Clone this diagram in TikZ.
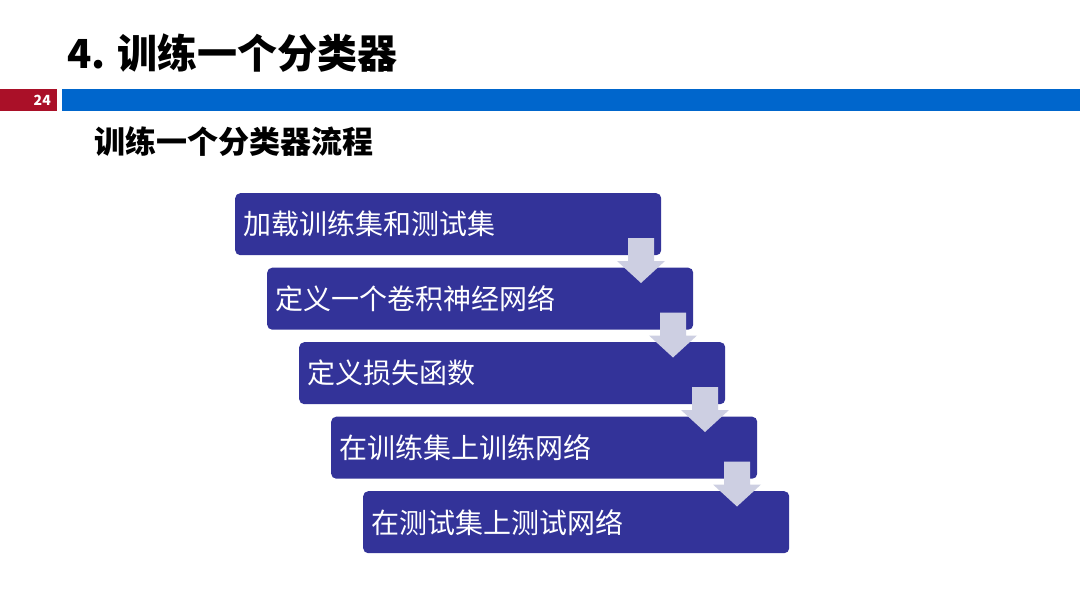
\documentclass[tikz,border=0pt]{standalone}
\usepackage{fontspec}
\setmainfont{Noto Sans CJK SC}
\newfontfamily\cjk{Noto Sans CJK SC}
\usetikzlibrary{positioning}
\definecolor{boxblue}{RGB}{51,51,153}
\definecolor{barblue}{RGB}{0,102,204}
\definecolor{barred}{RGB}{170,16,40}
\definecolor{arrowgray}{RGB}{205,207,226}
\tikzset{
  stepbox/.style={draw=none, fill=boxblue, rounded corners=5pt, minimum width=426pt, minimum height=62pt, anchor=north west, inner sep=0pt},
  steptext/.style={text=white, font=\cjk\fontsize{28}{31}\selectfont, anchor=west, inner sep=0pt},
  flowarrow/.style={fill=arrowgray, draw=none}
}
\newcommand{\flowarr}[2]{% #1 = x centre, #2 = y top
  \fill[arrowgray] (#1-13,#2) -- (#1+13,#2) -- (#1+13,#2+23) -- (#1+24,#2+23) -- (#1,#2+45) -- (#1-24,#2+23) -- (#1-13,#2+23) -- cycle;}
\begin{document}
\begin{tikzpicture}[x=1pt,y=-1pt]
\useasboundingbox (0,0) rectangle (1080,608);
\fill[white] (0,0) rectangle (1080,608);
% title
\node[anchor=west, inner sep=0pt, font=\cjk\bfseries\fontsize{40}{44}\selectfont] (title) at (67,53) {4. 训练一个分类器};
% bars
\fill[barred] (0,89) rectangle (57,111);
\node[anchor=east, inner sep=0pt, text=white, font=\cjk\bfseries\fontsize{14}{16}\selectfont] (num) at (51,100) {24};
\fill[barblue] (62,89) rectangle (1080,111);
% subtitle
\node[anchor=west, inner sep=0pt, font=\cjk\bfseries\fontsize{31}{34}\selectfont] (sub) at (94,142) {训练一个分类器流程};
% boxes
\node[stepbox] (b1) at (235,193) {};
\node[stepbox] (b2) at (267,267.5) {};
\node[stepbox] (b3) at (299,342) {};
\node[stepbox] (b4) at (331,416.5) {};
\node[stepbox] (b5) at (363,491) {};
\node[steptext] (t1) at ([xshift=8pt]b1.west) {加载训练集和测试集};
\node[steptext] (t2) at ([xshift=8pt]b2.west) {定义一个卷积神经网络};
\node[steptext] (t3) at ([xshift=8pt]b3.west) {定义损失函数};
\node[steptext] (t4) at ([xshift=8pt]b4.west) {在训练集上训练网络};
\node[steptext] (t5) at ([xshift=8pt]b5.west) {在测试集上测试网络};
% arrows
\flowarr{641}{238}
\flowarr{673}{312.5}
\flowarr{705}{387}
\flowarr{737}{461.5}
\end{tikzpicture}
\end{document}
